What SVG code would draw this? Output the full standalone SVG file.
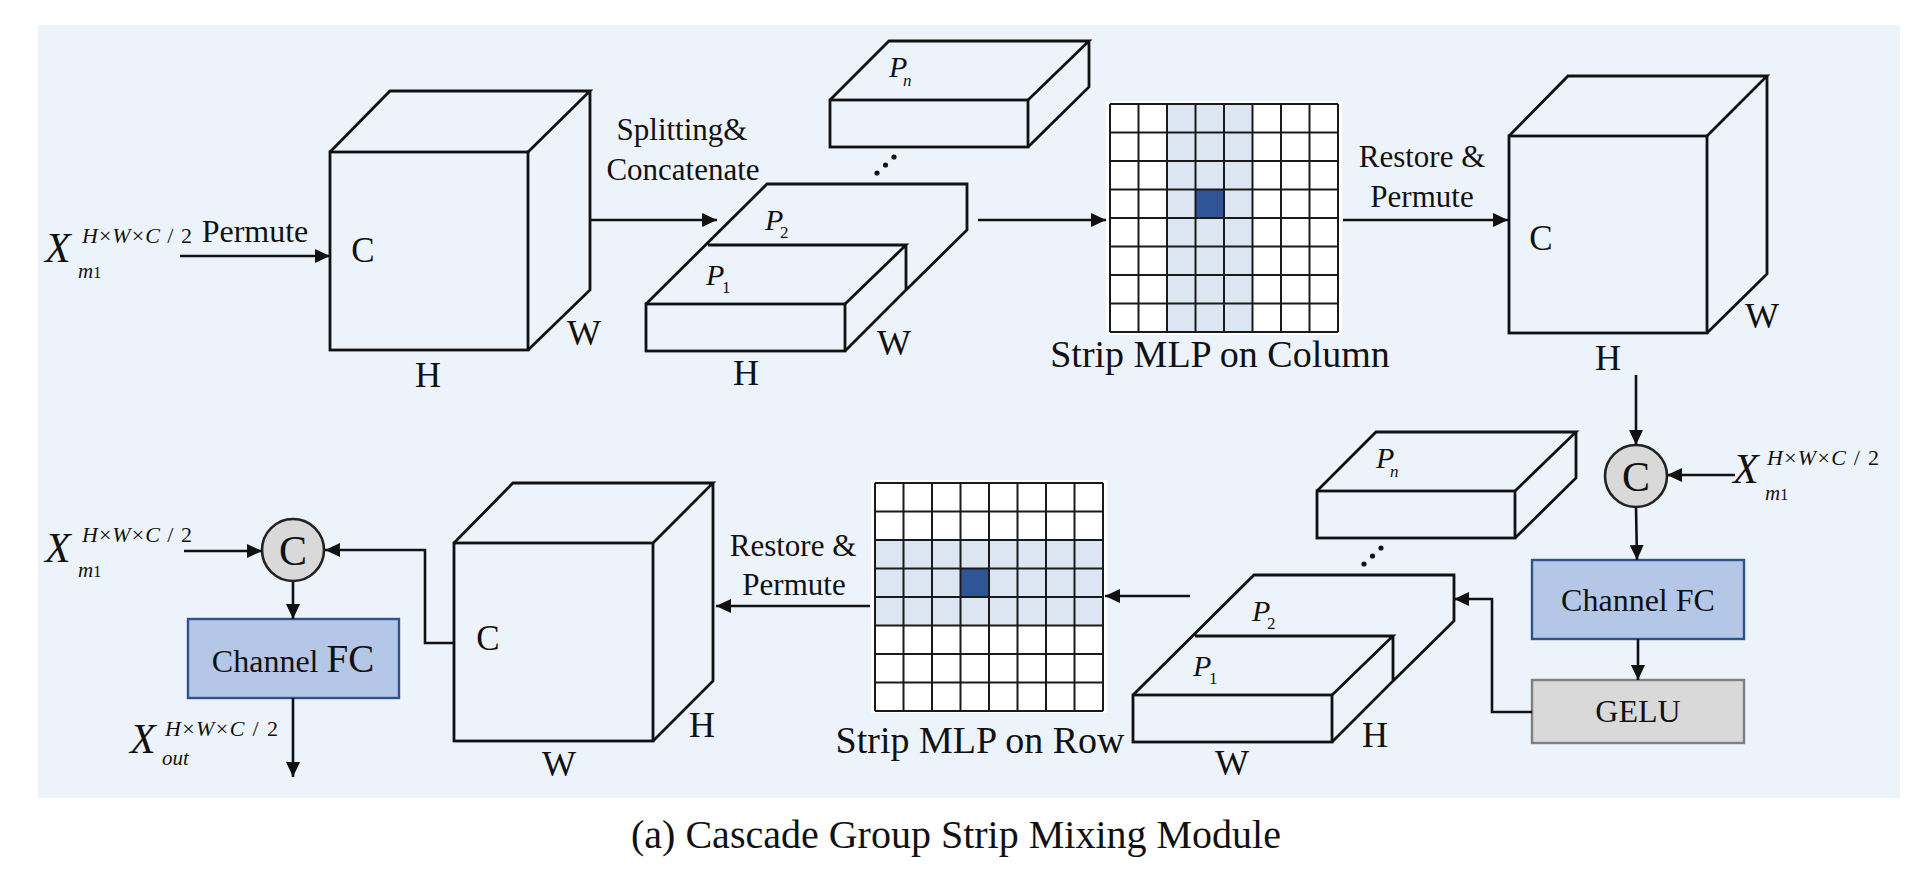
<svg xmlns="http://www.w3.org/2000/svg" width="1914" height="879" viewBox="0 0 1914 879" font-family="'Liberation Serif', Tinos, 'DejaVu Serif', serif">
<style>
.t{font-family:"Liberation Serif",Tinos,"DejaVu Serif",serif;fill:#111}
.i{font-style:italic}
.edge{fill:none;stroke:#111;stroke-width:2.8;stroke-linejoin:miter}
.grid{fill:none;stroke:#1a1a1a;stroke-width:2}
.con{fill:none;stroke:#111;stroke-width:2.6}
</style>
<defs>
<marker id="ah" markerUnits="userSpaceOnUse" markerWidth="16" markerHeight="14" refX="15" refY="7" orient="auto">
<path d="M0,0 L15,7 L0,14 z" fill="#111"/>
</marker>
<g id="slabs">
<rect x="646" y="304" width="199" height="47" class="edge"/>
<path class="edge" d="M646,304 L767,184 L967,184 L967,230 L906,290 M708,245 L906,245 L845,304 M906,245 L906,290 L845,351"/>
<rect x="830" y="100" width="198" height="47" class="edge"/>
<path class="edge" d="M830,100 L889,41 L1089,41 L1028,100 M1089,41 L1089,87 L1028,147"/>
<circle cx="877" cy="173" r="2.6" fill="#111"/>
<circle cx="885.5" cy="165" r="2.6" fill="#111"/>
<circle cx="894" cy="157" r="2.6" fill="#111"/>
<text class="t i" x="706" y="285" font-size="30">P</text><text class="t" x="722" y="293" font-size="17">1</text>
<text class="t i" x="765" y="230" font-size="30">P</text><text class="t" x="780" y="238" font-size="17">2</text>
<text class="t i" x="889" y="77" font-size="30">P</text><text class="t i" x="903" y="86" font-size="17">n</text>
</g>
</defs>
<rect x="38" y="25" width="1862" height="773" fill="#EDF3FA"/>

<g id="input-x-top">
<text class="t i" x="45" y="262" font-size="42">X</text>
<text class="t" x="82" y="243" font-size="22" textLength="110" lengthAdjust="spacing"><tspan class="i">H</tspan>×<tspan class="i">W</tspan>×<tspan class="i">C</tspan> / 2</text>
<text class="t i" x="78" y="278" font-size="21">m<tspan font-style="normal" font-size="16">1</tspan></text>
</g>
<text class="t" x="255" y="242" font-size="32" text-anchor="middle">Permute</text>

<g id="cube1">
<rect x="330" y="152" width="198" height="198" class="edge"/>
<path class="edge" d="M330,152 L390,91 L590,91 L528,152 M590,91 L590,290 L528,350"/>
<text class="t" x="363" y="262" font-size="35" text-anchor="middle">C</text>
<text class="t" x="428" y="387" font-size="36" text-anchor="middle">H</text>
<text class="t" x="584" y="345" font-size="36" text-anchor="middle">W</text>
</g>

<text class="t" x="682" y="140" font-size="31" text-anchor="middle">Splitting&amp;</text>
<text class="t" x="683" y="180" font-size="31" text-anchor="middle">Concatenate</text>

<g id="slabs-top">
<use href="#slabs"/>
<text class="t" x="746" y="385" font-size="36" text-anchor="middle">H</text>
<text class="t" x="894" y="355" font-size="36" text-anchor="middle">W</text>
</g>

<g id="grid-column">
<rect x="1106" y="101" width="236" height="234" fill="#fff"/>
<rect x="1167" y="104" width="85.5" height="228" fill="#DCE6F2"/>
<rect x="1195.5" y="189.5" width="28.5" height="28.5" fill="#2F5597"/>
<path class="grid" d="M1110,104V332M1138.5,104V332M1167,104V332M1195.5,104V332M1224,104V332M1252.5,104V332M1281,104V332M1309.5,104V332M1338,104V332M1110,104H1338M1110,132.5H1338M1110,161H1338M1110,189.5H1338M1110,218H1338M1110,246.5H1338M1110,275H1338M1110,303.5H1338M1110,332H1338"/>
<text class="t" x="1220" y="367" font-size="38" text-anchor="middle">Strip MLP on Column</text>
</g>

<text class="t" x="1422" y="167" font-size="31" text-anchor="middle">Restore &amp;</text>
<text class="t" x="1422" y="207" font-size="31" text-anchor="middle">Permute</text>

<g id="cube2">
<rect x="1509" y="136" width="198" height="197" class="edge"/>
<path class="edge" d="M1509,136 L1568,76 L1767,76 L1707,136 M1767,76 L1767,274 L1707,333"/>
<text class="t" x="1541" y="250" font-size="35" text-anchor="middle">C</text>
<text class="t" x="1608" y="370" font-size="36" text-anchor="middle">H</text>
<text class="t" x="1762" y="328" font-size="36" text-anchor="middle">W</text>
</g>

<g id="concat-right">
<circle cx="1636" cy="476" r="31" fill="#D9D9D9" stroke="#222" stroke-width="2.6"/>
<text class="t" x="1636" y="491" font-size="42" text-anchor="middle">C</text>
</g>
<g id="input-x-right">
<text class="t i" x="1733" y="483" font-size="42">X</text>
<text class="t" x="1767" y="465" font-size="22" textLength="112" lengthAdjust="spacing"><tspan class="i">H</tspan>×<tspan class="i">W</tspan>×<tspan class="i">C</tspan> / 2</text>
<text class="t i" x="1765" y="500" font-size="21">m<tspan font-style="normal" font-size="16">1</tspan></text>
</g>

<g id="channel-fc-right">
<rect x="1532" y="560" width="212" height="79" fill="#B4C7E7" stroke="#2F528F" stroke-width="2.4"/>
<text class="t" x="1638" y="611" font-size="32" text-anchor="middle">Channel FC</text>
</g>
<g id="gelu">
<rect x="1532" y="680" width="212" height="63" fill="#D9D9D9" stroke="#7F7F7F" stroke-width="2.4"/>
<text class="t" x="1638" y="722" font-size="32" text-anchor="middle">GELU</text>
</g>

<g id="slabs-bottom">
<use href="#slabs" transform="translate(487,391)"/>
<text class="t" x="1232" y="775" font-size="36" text-anchor="middle">W</text>
<text class="t" x="1375" y="747" font-size="36" text-anchor="middle">H</text>
</g>

<g id="grid-row">
<rect x="871" y="480" width="236" height="233" fill="#fff"/>
<rect x="875" y="540" width="228" height="85.5" fill="#DCE6F2"/>
<rect x="960.5" y="568.5" width="28.5" height="28.5" fill="#2F5597"/>
<path class="grid" d="M875,483V711M903.5,483V711M932,483V711M960.5,483V711M989,483V711M1017.5,483V711M1046,483V711M1074.5,483V711M1103,483V711M875,483H1103M875,511.5H1103M875,540H1103M875,568.5H1103M875,597H1103M875,625.5H1103M875,654H1103M875,682.5H1103M875,711H1103"/>
<text class="t" x="980" y="753" font-size="38" text-anchor="middle">Strip MLP on Row</text>
</g>

<text class="t" x="793" y="556" font-size="31" text-anchor="middle">Restore &amp;</text>
<text class="t" x="794" y="595" font-size="31" text-anchor="middle">Permute</text>

<g id="cube3">
<rect x="454" y="543" width="199" height="198" class="edge"/>
<path class="edge" d="M454,543 L513,483 L713,483 L653,543 M713,483 L713,681 L653,741"/>
<text class="t" x="488" y="650" font-size="35" text-anchor="middle">C</text>
<text class="t" x="559" y="776" font-size="36" text-anchor="middle">W</text>
<text class="t" x="702" y="737" font-size="36" text-anchor="middle">H</text>
</g>

<g id="concat-left">
<circle cx="293" cy="550" r="31" fill="#D9D9D9" stroke="#222" stroke-width="2.6"/>
<text class="t" x="293" y="565" font-size="42" text-anchor="middle">C</text>
</g>
<g id="input-x-left">
<text class="t i" x="45" y="562" font-size="42">X</text>
<text class="t" x="82" y="542" font-size="22" textLength="110" lengthAdjust="spacing"><tspan class="i">H</tspan>×<tspan class="i">W</tspan>×<tspan class="i">C</tspan> / 2</text>
<text class="t i" x="78" y="577" font-size="21">m<tspan font-style="normal" font-size="16">1</tspan></text>
</g>
<g id="channel-fc-left">
<rect x="188" y="619" width="211" height="79" fill="#B4C7E7" stroke="#2F528F" stroke-width="2.4"/>
<text class="t" x="293" y="672" font-size="32" text-anchor="middle">Channel <tspan font-size="39">FC</tspan></text>
</g>
<g id="output-x">
<text class="t i" x="130" y="753" font-size="42">X</text>
<text class="t" x="165" y="736" font-size="22" textLength="113" lengthAdjust="spacing"><tspan class="i">H</tspan>×<tspan class="i">W</tspan>×<tspan class="i">C</tspan> / 2</text>
<text class="t i" x="162" y="765" font-size="21">out</text>
</g>

<g id="connectors">
<path class="con" marker-end="url(#ah)" d="M180,256 H330"/>
<path class="con" marker-end="url(#ah)" d="M590,220 H717"/>
<path class="con" marker-end="url(#ah)" d="M978,220 H1106"/>
<path class="con" marker-end="url(#ah)" d="M1343,220 H1508"/>
<path class="con" marker-end="url(#ah)" d="M1636,375 V445"/>
<path class="con" marker-end="url(#ah)" d="M1735,475 H1667"/>
<path class="con" marker-end="url(#ah)" d="M1636,507 L1637,560"/>
<path class="con" marker-end="url(#ah)" d="M1638,639 V680"/>
<path class="con" marker-end="url(#ah)" d="M1532,712 H1492 V599 H1454"/>
<path class="con" marker-end="url(#ah)" d="M1190,596 H1105"/>
<path class="con" marker-end="url(#ah)" d="M870,606 H716"/>
<path class="con" marker-end="url(#ah)" d="M454,643 H425 V550 H325"/>
<path class="con" marker-end="url(#ah)" d="M184,551 H262"/>
<path class="con" marker-end="url(#ah)" d="M293,582 V619"/>
<path class="con" marker-end="url(#ah)" d="M293,698 V777"/>
</g>

<text class="t" x="956" y="848" font-size="40" text-anchor="middle">(a) Cascade Group Strip Mixing Module</text>
</svg>
